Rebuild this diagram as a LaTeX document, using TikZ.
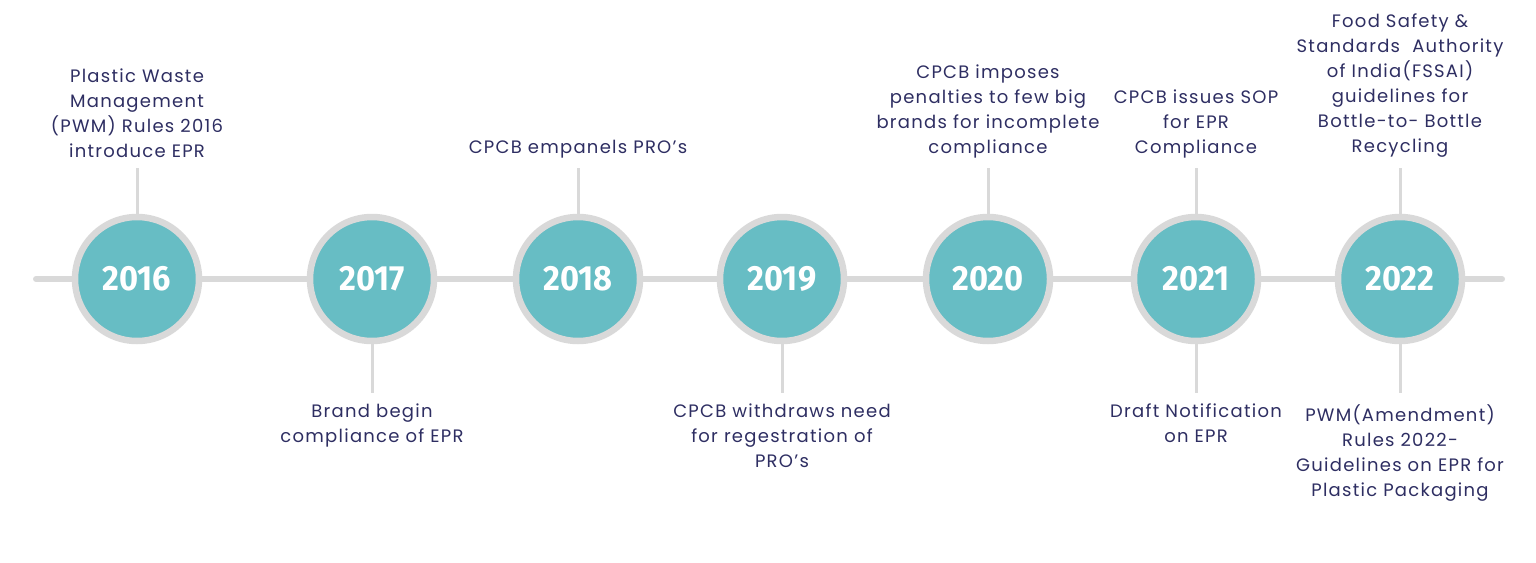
\documentclass[tikz,border=0pt]{standalone}
\usepackage{fontspec}
\setmainfont{Poppins}[LetterSpace=7]
\newfontfamily\yearfont{Fira Sans}
\definecolor{teal1}{HTML}{67BDC4}
\definecolor{ring}{HTML}{D9D9D9}
\definecolor{navy}{HTML}{2E2E62}
\tikzset{
  year/.style={circle, draw=ring, line width=6.5pt, fill=teal1, minimum size=124pt, inner sep=0pt,
    text=white, font=\yearfont\bfseries\fontsize{35}{40}\selectfont},
  stem/.style={draw=ring, line width=3pt},
  axis/.style={draw=ring, line width=6pt, line cap=round},
  uptext/.style={anchor=south, align=center, inner sep=0pt, text=navy, font=\fontsize{18}{25}\selectfont},
  downtext/.style={anchor=north, align=center, inner sep=0pt, text=navy, font=\fontsize{18}{25}\selectfont}
}
\newcommand{\yr}[1]{\scalebox{0.93}[1]{#1}}
\begin{document}
\begin{tikzpicture}[x=1pt,y=-1pt]
\useasboundingbox (0,0) rectangle (1536,562);
\coordinate (start) at (36,279);
\coordinate (end) at (1502,279);
\draw[axis] (start) -- (end);
\node[year] (c16) at (137,279) {\yr{2016}};
\node[year] (c17) at (372,279) {\yr{2017}};
\node[year] (c18) at (578,279) {\yr{2018}};
\node[year] (c19) at (782,279) {\yr{2019}};
\node[year] (c20) at (988,279) {\yr{2020}};
\node[year] (c21) at (1196,279) {\yr{2021}};
\node[year] (c22) at (1400,279) {\yr{2022}};
% stems
\coordinate (s16) at (137,168);
\coordinate (s17) at (372,393);
\coordinate (s18) at (578,168);
\coordinate (s19) at (782,393);
\coordinate (s20) at (988,168);
\coordinate (s21a) at (1196,168);
\coordinate (s21b) at (1196,393);
\coordinate (s22a) at (1400,168);
\coordinate (s22b) at (1400,393);
\draw[stem] (c16.north) -- (s16);
\draw[stem] (c17.south) -- (s17);
\draw[stem] (c18.north) -- (s18);
\draw[stem] (c19.south) -- (s19);
\draw[stem] (c20.north) -- (s20);
\draw[stem] (c21.north) -- (s21a);
\draw[stem] (c21.south) -- (s21b);
\draw[stem] (c22.north) -- (s22a);
\draw[stem] (c22.south) -- (s22b);
% texts
\node[uptext] (t16) at (137,158) {Plastic Waste\\Management\\(PWM) Rules 2016\\introduce EPR};
\node[downtext] (t17) at (372,404) {Brand begin\\compliance of EPR};
\node[uptext] (t18) at (578,158) {CPCB empanels PRO’s};
\node[downtext] (t19) at (782,404) {CPCB withdraws need\\for regestration of\\PRO’s};
\node[uptext] (t20) at (988,158) {CPCB imposes\\penalties to few big\\brands for incomplete\\compliance};
\node[uptext] (t21a) at (1196,158) {CPCB issues SOP\\for EPR\\Compliance};
\node[downtext] (t21b) at (1196,404) {Draft Notification\\on EPR};
\node[uptext] (t22a) at (1400,158) {Food Safety \&\\Standards\ \ Authority\\of India(FSSAI)\\guidelines for\\Bottle-to- Bottle\\Recycling};
\node[downtext] (t22b) at (1400,404) {PWM(Amendment)\\Rules 2022-\\Guidelines on EPR for\\Plastic Packaging};
\end{tikzpicture}
\end{document}
